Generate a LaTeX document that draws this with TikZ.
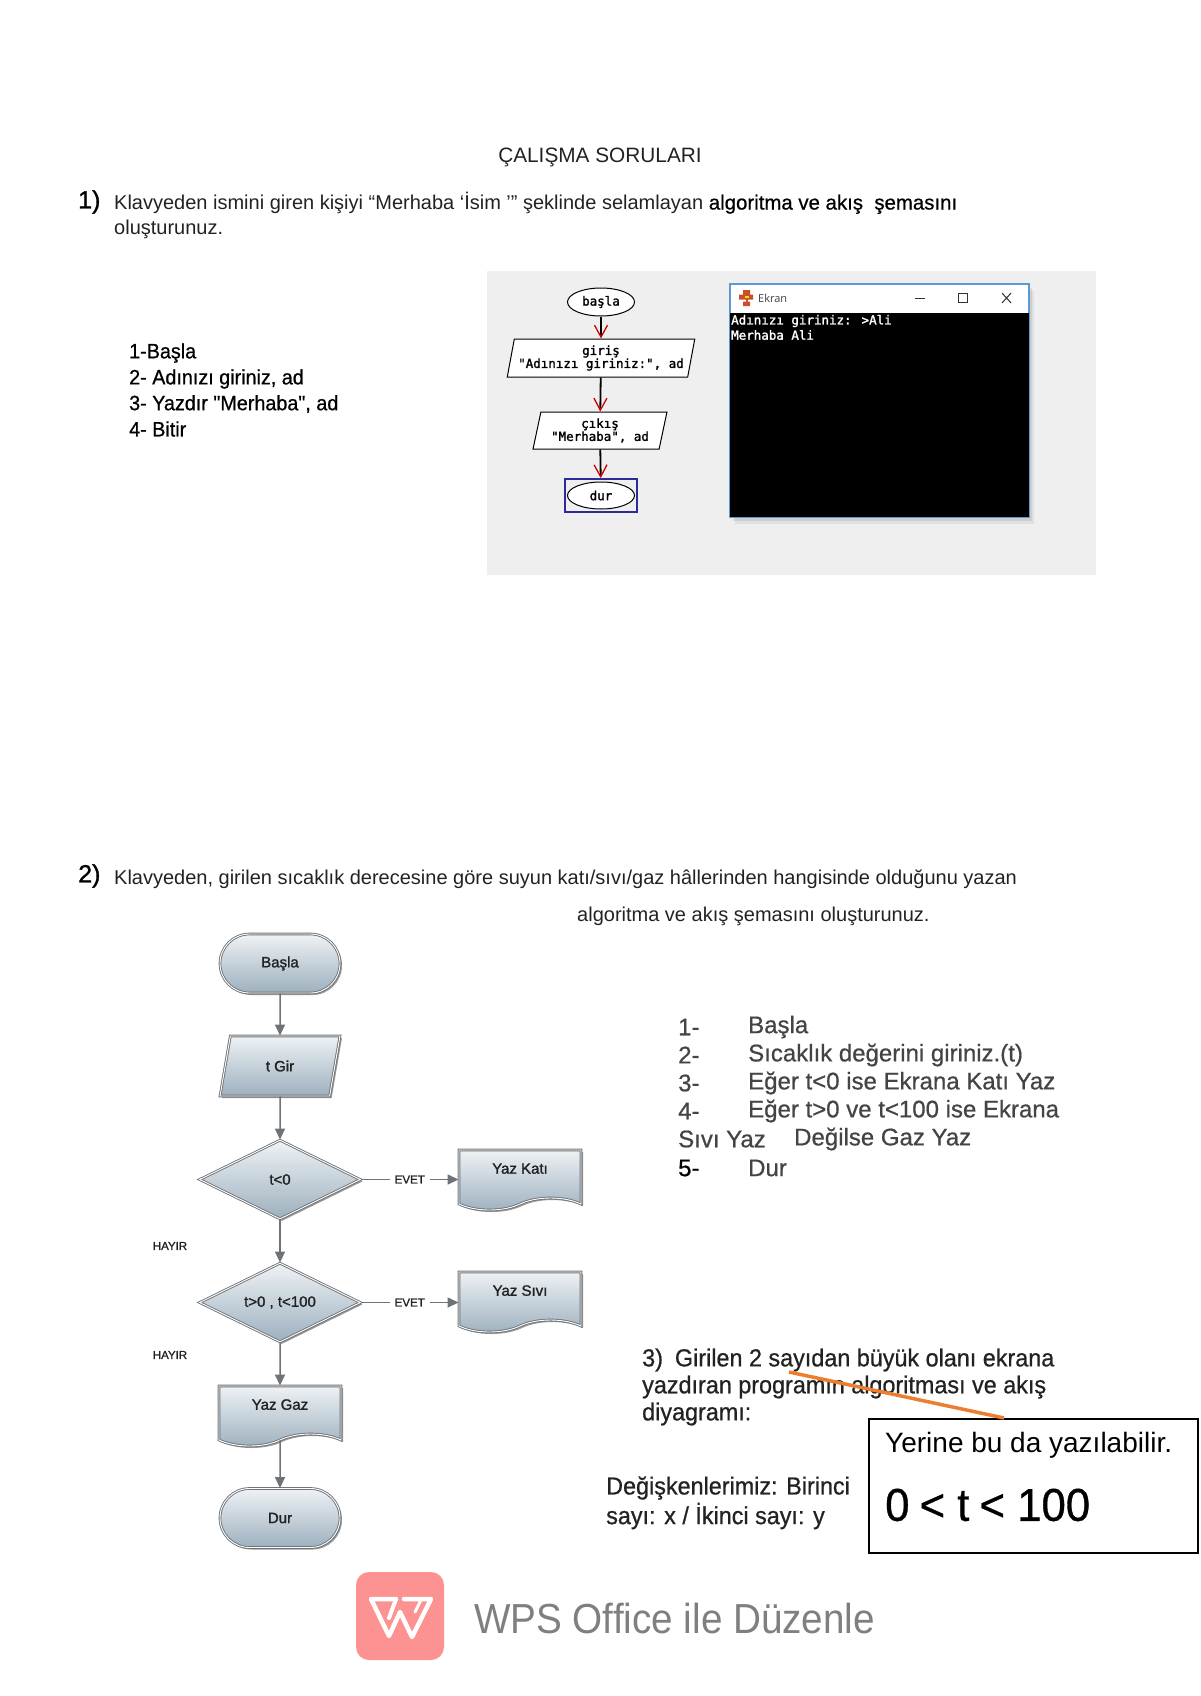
\documentclass[tikz,border=0pt]{standalone}
\usepackage{fontspec}
\usepackage{xcolor}
\usepackage{tikz}
\setmainfont{Liberation Sans}
\newfontfamily\medfont[FakeBold=0.7]{Liberation Sans}
\newfontfamily\heavyfont[FakeBold=1.3]{Liberation Sans}
\newfontfamily\narrowfont[FakeBold=0.7, FakeStretch=0.95]{Liberation Sans}
\newfontfamily\wpsfont[FakeStretch=0.92]{Liberation Sans}
\newfontfamily\boldmono[FakeBold=1.6]{DejaVu Sans Mono}
\newfontfamily\uifont{Open Sans}
\usetikzlibrary{
  arrows.meta,
  shapes,
  shapes.geometric,
  shapes.symbols,
  positioning,
  calc,
  shadows
}
\definecolor{fcPanel}{HTML}{EFEFEF}
\definecolor{fcText}{HTML}{222222}
\definecolor{fcList}{HTML}{444444}
\definecolor{fcEdge}{HTML}{6E7378}
\definecolor{fcTop}{HTML}{EEF2F5}
\definecolor{fcBottom}{HTML}{9DB0BE}
\definecolor{fcWin}{HTML}{5B9BD5}
\definecolor{fcBlue}{HTML}{2B2B9A}
\definecolor{fcOrange}{HTML}{ED7D31}
\definecolor{fcIcon}{HTML}{C8502A}
\definecolor{fcLogo}{HTML}{FC9292}
\definecolor{fcWps}{HTML}{7F7F7F}
\tikzset{
  bodytext/.style={anchor=west, inner sep=0pt, text=fcText, font=\fontsize{20}{24}\selectfont},
  boldtext/.style={anchor=west, inner sep=0pt, text=black, font=\fontsize{20.8}{24}\narrowfont},
  listtext/.style={anchor=west, inner sep=0pt, text=fcList, font=\fontsize{24}{28}\medfont},
  notetext/.style={anchor=west, inner sep=0pt, text=fcText, font=\fontsize{24.6}{28}\narrowfont},
  numtext/.style={anchor=west, inner sep=0pt, text=black, font=\fontsize{25}{28}\heavyfont},
  smallbox/.style={draw=black, fill=white, line width=1pt, font=\fontsize{12.5}{13}\boldmono, align=center, inner sep=0pt},
  ioshape/.style={smallbox, trapezium, trapezium left angle=75, trapezium right angle=105,
    trapezium stretches=true, minimum width=188pt, minimum height=38pt},
  termshape/.style={smallbox, ellipse, minimum width=67pt, minimum height=28pt},
  smallflow/.style={-{Straight Barb[length=12pt, width=13pt, color=red!80!black, line width=1.3pt]}, line width=1.8pt, black},
  flowshade/.style={draw=fcEdge, line width=.9pt, double=white, double distance=.9pt, top color=fcTop, bottom color=fcBottom,
    drop shadow={shadow xshift=2pt, shadow yshift=-2pt, opacity=.4, fill=black},
    font=\fontsize{15}{16}\heavyfont, text=fcText, inner sep=0pt},
  startstop/.style={flowshade, rounded rectangle, minimum width=120pt, minimum height=59pt},
  inputbox/.style={flowshade, trapezium, trapezium left angle=75, trapezium right angle=105,
    trapezium stretches=true, minimum width=120pt, minimum height=60pt},
  decision/.style={flowshade, diamond, aspect=2, minimum width=161pt, minimum height=79pt},
  document/.style={flowshade, tape, tape bend top=none, tape bend bottom=in and out,
    tape bend height=12pt, minimum width=122pt, minimum height=60pt, text depth=11pt},
  flow/.style={-{Triangle[length=11pt, width=10pt]}, line width=1.5pt, fcEdge},
  tag/.style={font=\fontsize{11.5}{12}\heavyfont, text=fcText, inner sep=0pt}
}
\begin{document}
\begin{tikzpicture}[x=1pt, y=-1pt]
  \useasboundingbox (0,0) rectangle (1200,1696);

  % question texts
  \node[anchor=center, inner sep=0pt, text=fcText, font=\fontsize{20.8}{24}\selectfont] (title) at (600,157) {ÇALIŞMA SORULARI};
  \node[numtext] (q1num) at (78,202) {1)};
  \node[bodytext] (q1line) at (114,203) {Klavyeden ismini giren kişiyi “Merhaba ‘İsim ’” şeklinde selamlayan {\fontsize{20.4}{24}\medfont\color{black} algoritma ve akış\ \ şemasını}};
  \node[bodytext] (q1next) at (114,229) {oluşturunuz.};
  \node[numtext] (q2num) at (78,876) {2)};
  \node[bodytext] (q2line) at (114,879) {Klavyeden, girilen sıcaklık derecesine göre suyun katı/sıvı/gaz hâllerinden hangisinde olduğunu yazan};
  \node[bodytext] (q2next) at (577,916) {algoritma ve akış şemasını oluşturunuz.};

  % algorithm of question 1
  \node[boldtext] (a1) at (129,353) {1-Başla};
  \node[boldtext] (a2) at (129,379) {2- Adınızı giriniz, ad};
  \node[boldtext] (a3) at (129,404) {3- Yazdır "Merhaba", ad};
  \node[boldtext] (a4) at (129,429) {4- Bitir};

  % small flowchart and console window
  \fill[fcPanel] (487,271) rectangle (1096,575);
  \node[termshape] (basla) at (601,302) {başla};
  \node[ioshape] (giris) at (601,358) {giriş\\"Adınızı giriniz:", ad};
  \node[ioshape, minimum width=134pt, minimum height=37pt] (cikis) at (600,430.5) {çıkış\\"Merhaba", ad};
  \node[draw=fcBlue, line width=1.8pt, minimum width=72pt, minimum height=33pt, inner sep=0pt] (durbox) at (601,495.5) {};
  \node[termshape, minimum height=27pt] (dur) at (601,495.5) {dur};
  \draw[smallflow] (basla) -- (giris);
  \draw[smallflow] (giris) -- (cikis);
  \draw[smallflow] (cikis) -- (durbox);

  \node[draw=fcWin, fill=white, line width=1.2pt, minimum width=299pt, minimum height=233pt, inner sep=0pt,
    drop shadow={shadow xshift=5pt, shadow yshift=-7pt, opacity=.06, fill=black},
    drop shadow={shadow xshift=3pt, shadow yshift=-4pt, opacity=.08, fill=black}] (win) at (879.5,400.5) {};
  \fill[black] (730,313) rectangle (1029,517);
  \node[anchor=west, inner sep=0pt, text=black!75, font=\fontsize{11}{12}\uifont] (wintitle) at (758,298) {Ekran};
  \fill[fcIcon] (743,290) rectangle (750,294.5) (739,294.5) rectangle (753,299.5) (743,301.5) rectangle (750,306);
  \fill[fcIcon] (745.5,299) rectangle (747.5,302);
  \fill[yellow!80!orange] (744.5,296) rectangle (748.5,298);
  \draw[line width=1pt, black!80] (915,298) -- (925,298);
  \draw[line width=1pt, black!80] (958,293.5) rectangle (967,302.5);
  \draw[line width=1pt, black!80] (1002,293) -- (1011,303) (1002,303) -- (1011,293);
  \node[anchor=west, inner sep=0pt, text=white, font=\fontsize{12.5}{13}\boldmono] (out1) at (731,321) {Adınızı giriniz: >Ali};
  \node[anchor=west, inner sep=0pt, text=white, font=\fontsize{12.5}{13}\boldmono] (out2) at (731,335) {Merhaba Ali};

  % big flowchart
  \node[startstop] (start) at (280,963.5) {Başla};
  \node[inputbox] (tgir) at (280,1066) {t Gir};
  \node[decision] (d1) at (280,1179.5) {t<0};
  \node[decision] (d2) at (280,1302.5) {t>0 , t<100};
  \node[document] (gaz) at (280,1410) {Yaz Gaz};
  \node[startstop] (stop) at (280,1518) {Dur};
  \node[document] (kati) at (520,1174) {Yaz Katı};
  \node[document] (sivi) at (520,1296) {Yaz Sıvı};
  \draw[flow] (start) -- (tgir);
  \draw[flow] (tgir) -- (d1);
  \draw[flow] (d1) -- (d2);
  \draw[flow] (d2) -- (gaz);
  \draw[flow] (gaz) -- (stop);
  \draw[flow] (d1) -- node[tag, fill=white, inner xsep=5pt, pos=.5] (evet1) {EVET} (d1 -| kati.west);
  \draw[flow] (d2) -- node[tag, fill=white, inner xsep=5pt, pos=.5] (evet2) {EVET} (d2 -| sivi.west);
  \node[tag] (hayir1) at (170,1246) {HAYIR};
  \node[tag] (hayir2) at (170,1355) {HAYIR};

  % algorithm of question 2
  \foreach \n/\txt/\yy in {1-/Başla/1027, 2-/Sıcaklık değerini giriniz.(t)/1055, 3-/Eğer t<0 ise Ekrana Katı Yaz/1083, 4-/Eğer t>0 ve t<100 ise Ekrana/1111}{
    \node[listtext] (n\yy) at (678,\yy) {\n};
    \node[listtext] (t\yy) at (748,\yy) {\txt};
  }
  \node[listtext] (sivi1) at (678,1139) {Sıvı Yaz};
  \node[listtext] (gaz1) at (794,1139) {Değilse Gaz Yaz};
  \node[listtext, text=black] (n1168) at (678,1168) {5-};
  \node[listtext] (t1168) at (748,1168) {Dur};

  % question 3
  \node[notetext] (q3a) at (642,1360) {3)\hspace{12pt}Girilen 2 sayıdan büyük olanı ekrana};
  \node[notetext] (q3b) at (642,1387) {yazdıran programın algoritması ve akış};
  \node[notetext] (q3c) at (642,1414) {diyagramı:};
  \node[notetext] (vars1) at (606,1488) {Değişkenlerimiz: Birinci};
  \node[notetext] (vars2) at (606,1516) {sayı: x / İkinci sayı: y};
  \node[draw=black, fill=white, line width=1.5pt, minimum width=329pt, minimum height=134pt, inner sep=0pt] (note) at (1033.5,1486) {};
  \coordinate (linestart) at (789,1372);
  \draw[fcOrange, line width=3.5pt] (linestart) -- (1004,1418);
  \node[anchor=west, inner sep=0pt, text=black, font=\fontsize{28}{32}\selectfont] (note1) at (885,1445) {Yerine bu da yazılabilir.};
  \node[anchor=west, inner sep=0pt, text=black, font=\fontsize{46}{50}\narrowfont] (note2) at (885,1505) {0\hspace{-2pt} < t\hspace{-2pt} < 100};

  % logo
  \node[fill=fcLogo, rounded corners=13pt, minimum width=88pt, minimum height=88pt, inner sep=0pt] (logo) at (400,1616) {};
  \draw[white, line width=4.5pt, line join=round, line cap=round]
    (396,1599) -- (371,1599) -- (389,1636) -- (400,1612) -- (412,1637) -- (431,1599) -- (404,1599);
  \draw[white, line width=4pt, line cap=round] (396,1599) -- (389,1618);
  \draw[white, line width=3pt, line cap=round] (415,1612) -- (421,1600);
  \node[anchor=west, inner sep=0pt, text=fcWps, font=\fontsize{42}{46}\wpsfont] (wps) at (474,1618) {WPS Office ile Düzenle};
\end{tikzpicture}
\end{document}
